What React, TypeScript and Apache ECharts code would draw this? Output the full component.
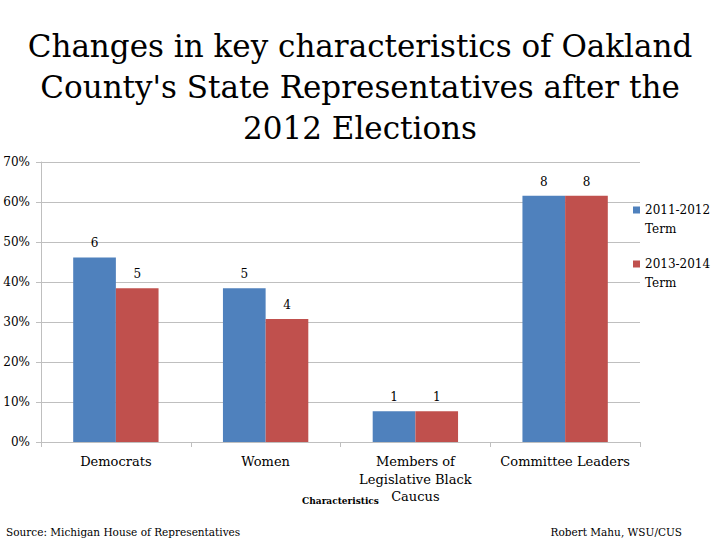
import React, { useEffect, useRef } from "react";
import * as echarts from "echarts";

const categories = ["Democrats", "Women", "Members of\nLegislative Black\nCaucus", "Committee Leaders"];
const seriesNames = ["2011-2012 Term", "2013-2014 Term"];
const pct2011 = [46.15, 38.46, 7.69, 61.54];
const pct2013 = [38.46, 30.77, 7.69, 61.54];
const count2011 = [6, 5, 1, 8];
const count2013 = [5, 4, 1, 8];
const titleText = "Changes in key characteristics of Oakland\nCounty's State Representatives after the\n2012 Elections";
const FONT = "'DejaVu Serif', 'Liberation Serif', serif";

export default function App() {
  const ref = useRef<HTMLDivElement>(null);
  useEffect(() => {
    const chart = echarts.init(ref.current!, null, { renderer: "svg" });
    const mk = (name: string, data: number[], counts: number[], color: string) => ({
      name,
      type: "bar",
      data,
      barGap: "0%",
      barCategoryGap: "43%",
      itemStyle: { color },
      label: {
        show: true,
        position: "top",
        distance: 8,
        color: "#000",
        fontFamily: FONT,
        fontSize: 12,
        formatter: (p: any) => String(counts[p.dataIndex]),
      },
    });
    const legendBase = {
      orient: "vertical",
      left: 633,
      padding: 0,
      itemWidth: 7,
      itemHeight: 7,
      icon: "rect",
      textStyle: { fontFamily: FONT, fontSize: 12, color: "#000" },
      formatter: (name: string) => name.split(" ")[0],
    };
    chart.setOption({
      animation: false,
      backgroundColor: "#fff",
      textStyle: { fontFamily: FONT },
      title: {
        text: titleText,
        left: "center",
        top: 20,
        textStyle: { fontFamily: FONT, fontSize: 31, fontWeight: "normal", color: "#000", lineHeight: 41 },
      },
      legend: [
        { ...legendBase, top: 204, data: [seriesNames[0]] },
        { ...legendBase, top: 258, data: [seriesNames[1]] },
      ],
      grid: { left: 41, right: 80, top: 162, bottom: 98, containLabel: false },
      xAxis: {
        type: "category",
        data: categories,
        axisLine: { lineStyle: { color: "#bfbfbf", width: 1 } },
        axisTick: { show: true, lineStyle: { color: "#bfbfbf" }, length: 5 },
        axisLabel: { color: "#000", fontFamily: FONT, fontSize: 13, lineHeight: 17.5, margin: 11, interval: 0 },
        name: "Characteristics",
        nameLocation: "middle",
        nameGap: 54,
        nameMoveOverlap: false,
        nameTextStyle: { fontFamily: FONT, fontSize: 9, fontWeight: "bold", color: "#000" },
      },
      yAxis: {
        type: "value",
        min: 0,
        max: 70,
        interval: 10,
        axisLine: { show: true, lineStyle: { color: "#bfbfbf" } },
        axisTick: { show: true, lineStyle: { color: "#bfbfbf" }, length: 5 },
        splitLine: { lineStyle: { color: "#bfbfbf" } },
        axisLabel: { color: "#000", fontFamily: FONT, fontSize: 12, margin: 11, formatter: "{value}%" },
      },
      series: [
        mk(seriesNames[0], pct2011, count2011, "#4F81BD"),
        mk(seriesNames[1], pct2013, count2013, "#C0504D"),
      ],
      graphic: [
        { type: "text", left: 645, top: 223, style: { text: "Term", font: `12px ${FONT}`, fill: "#000" } },
        { type: "text", left: 645, top: 277, style: { text: "Term", font: `12px ${FONT}`, fill: "#000" } },
        { type: "text", left: 6, top: 526, style: { text: "Source: Michigan House of Representatives", font: `10.5px ${FONT}`, fill: "#000" } },
        { type: "text", right: 38, top: 526, style: { text: "Robert Mahu, WSU/CUS", font: `10.5px ${FONT}`, fill: "#000" } },
      ],
    });
    return () => chart.dispose();
  }, []);
  return <div ref={ref} style={{ width: 720, height: 540, position: "fixed", left: 0, top: 0 }} />;
}
